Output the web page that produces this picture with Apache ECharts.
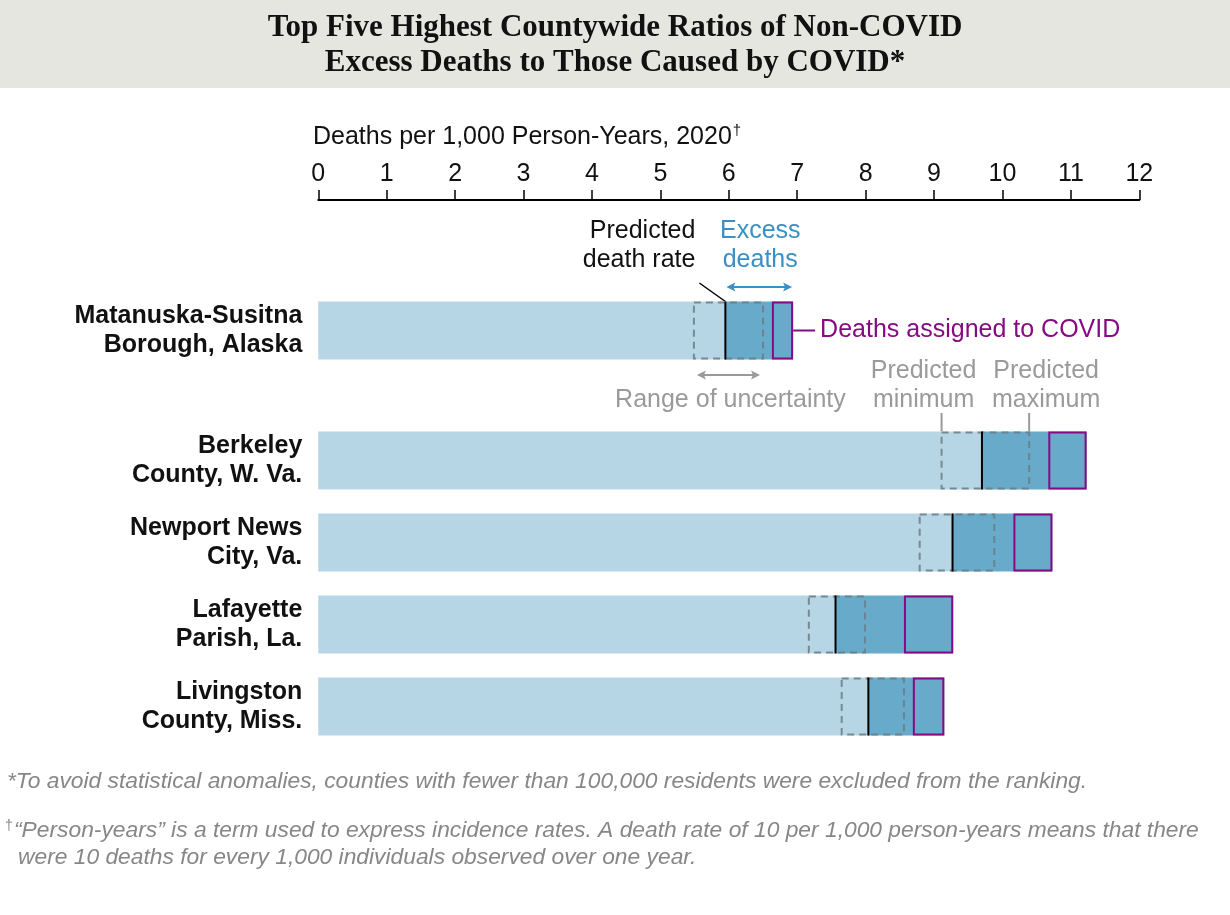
<!DOCTYPE html>
<html><head><meta charset="utf-8">
<script src="https://cdn.jsdelivr.net/npm/echarts@6/dist/echarts.min.js"></script>
<style>html,body{margin:0;padding:0;background:#fff}#c{width:1230px;height:915px}</style>
</head><body><div id="c"></div>
<script>
const counties = ['Matanuska-Susitna\nBorough, Alaska','Berkeley\nCounty, W. Va.','Newport News\nCity, Va.','Lafayette\nParish, La.','Livingston\nCounty, Miss.'];
const predicted = [5.95, 9.70, 9.27, 7.56, 8.04];
const predMin   = [5.49, 9.11, 8.79, 7.17, 7.65];
const predMax   = [6.50, 10.39, 9.88, 7.99, 8.56];
const observed  = [6.94, 11.23, 10.73, 9.28, 9.15];
const covid     = [0.31, 0.56, 0.57, 0.72, 0.46];
const xTicks = [0,1,2,3,4,5,6,7,8,9,10,11,12];

const C = {light:'#b6d5e5', dark:'#68aaca', purple:'#860a84', dash:'#6b7c86', blue:'#3a90c1', gray:'#9a9a9a', text:'#111'};
const FONT = '"Liberation Sans", Arial, sans-serif';
const FS = 25;

function rows(idx){ return idx.map(i => [i - idx[0], predicted[i], predMin[i], predMax[i], observed[i], covid[i]]); }

function renderItem(params, api){
  const cat = api.value(0);
  const p = api.value(1), mn = api.value(2), mx = api.value(3), ob = api.value(4), cv = api.value(5);
  const h = 58;
  const yc = api.coord([0, cat])[1];
  const top = yc - h/2;
  const px = v => api.coord([v, cat])[0];
  const X0 = px(0), XP = px(p), XMn = px(mn), XMx = px(mx), XO = px(ob), XC = px(ob - cv);
  return {type:'group', children:[
    {type:'rect', shape:{x:X0, y:top, width:XP-X0, height:h}, style:{fill:C.light}},
    {type:'rect', shape:{x:XP, y:top, width:XO-XP, height:h}, style:{fill:C.dark}},
    {type:'rect', shape:{x:XMn, y:top+1, width:XMx-XMn, height:h-2}, style:{fill:null, stroke:C.dash, lineWidth:2, lineDash:[7,5], opacity:0.85}},
    {type:'line', shape:{x1:XP, y1:top, x2:XP, y2:top+h}, style:{stroke:'#000', lineWidth:2}},
    {type:'rect', shape:{x:XC+1, y:top+1, width:XO-XC-2, height:h-2}, style:{fill:null, stroke:C.purple, lineWidth:2}}
  ]};
}

const chart = echarts.init(document.getElementById('c'), null, {renderer:'canvas'});
const yLabel = {fontFamily:FONT, fontSize:FS, fontWeight:'bold', color:C.text, lineHeight:29, margin:16, align:'right'};
chart.setOption({
  animation:false,
  backgroundColor:'#fff',
  grid:[
    {left:318.3, width:821, top:289.5, height:82},
    {left:318.3, width:821, top:419.5, height:328}
  ],
  xAxis:[
    {gridIndex:0, type:'value', min:0, max:12, interval:1, position:'top', offset:89.5,
     axisLine:{show:true, lineStyle:{color:'#000', width:2}},
     axisTick:{show:true, length:10, lineStyle:{color:'#000', width:1.5}},
     axisLabel:{fontFamily:FONT, fontSize:FS, color:C.text, margin:13, formatter:v => String(xTicks[v] !== undefined ? xTicks[v] : v)},
     splitLine:{show:false}},
    {gridIndex:1, type:'value', min:0, max:12, interval:1, show:false, splitLine:{show:false}}
  ],
  yAxis:[
    {gridIndex:0, type:'category', data:counties.slice(0,1), inverse:true,
     axisLine:{show:false}, axisTick:{show:false}, axisLabel:yLabel},
    {gridIndex:1, type:'category', data:counties.slice(1), inverse:true,
     axisLine:{show:false}, axisTick:{show:false}, axisLabel:yLabel}
  ],
  series:[
    {type:'custom', xAxisIndex:0, yAxisIndex:0, renderItem, data:rows([0]), encode:{x:[1,2,3,4], y:0}},
    {type:'custom', xAxisIndex:1, yAxisIndex:1, renderItem, data:rows([1,2,3,4]), encode:{x:[1,2,3,4], y:0}}
  ]
});

const P = (v, grid, cat) => chart.convertToPixel({gridIndex:grid}, [v, cat]);
const xp = v => P(v,0,0)[0];
const yMat = P(0,0,0)[1];
const xpB = v => P(v,1,0)[0];
const yBerk = P(0,1,0)[1];
const matTop = yMat - 29, berkTop = yBerk - 29;

function arrow(x1, x2, y, color){
  const hl = 9, hw = 4.5;
  return [
    {type:'line', shape:{x1:x1+3, y1:y, x2:x2-3, y2:y}, style:{stroke:color, lineWidth:2}},
    {type:'polygon', shape:{points:[[x1,y],[x1+hl,y-hw],[x1+hl-2,y],[x1+hl,y+hw]]}, style:{fill:color}},
    {type:'polygon', shape:{points:[[x2,y],[x2-hl,y-hw],[x2-hl+2,y],[x2-hl,y+hw]]}, style:{fill:color}}
  ];
}
const txt = (x, y, text, color, align) => ({type:'text', x, y, style:{text, fill:color, font:`${FS}px ${FONT}`, textAlign:align, textVerticalAlign:'middle', lineHeight:29}});

const xPred = xp(predicted[0]), xObs = xp(observed[0]);
const xMin0 = xp(predMin[0]), xMax0 = xp(predMax[0]);
const xMinB = xpB(predMin[1]), xMaxB = xpB(predMax[1]);
const TF = `bold 31px "Liberation Serif", serif`;
const FN = `italic 22.8px ${FONT}`;

const g = [
  {type:'rect', shape:{x:0, y:0, width:1230, height:88}, style:{fill:'#e6e6e1'}},
  {type:'text', x:615, y:28, style:{text:'Top Five Highest Countywide Ratios of Non-COVID', fill:'#111', font:TF, textAlign:'center', textVerticalAlign:'middle'}},
  {type:'text', x:615, y:63, style:{text:'Excess Deaths to Those Caused by COVID*', fill:'#111', font:TF, textAlign:'center', textVerticalAlign:'middle'}},
  {type:'text', x:313, y:137, style:{rich:{a:{fontFamily:FONT, fontSize:FS, fill:'#111'}, s:{fontFamily:FONT, fontSize:15, fill:'#111', padding:[0,0,12,1]}}, text:'{a|Deaths per 1,000 Person-Years, 2020}{s|†}', textVerticalAlign:'middle'}},
  txt(xPred - 30, 245.5, 'Predicted\ndeath rate', '#111', 'right'),
  {type:'line', shape:{x1:xPred - 26, y1:283, x2:xPred, y2:matTop}, style:{stroke:'#000', lineWidth:1.5}},
  txt((xPred + xObs)/2 + 1, 245.5, 'Excess\ndeaths', C.blue, 'center'),
  ...arrow(xPred + 1, xObs - 1, 287, C.blue),
  {type:'line', shape:{x1:xObs, y1:yMat, x2:xObs + 22, y2:yMat}, style:{stroke:C.purple, lineWidth:2}},
  txt(xObs + 27, yMat, 'Deaths assigned to COVID', C.purple, 'left'),
  ...arrow(xMin0 + 3, xMax0 - 3, 375, C.gray),
  txt((xMin0 + xMax0)/2 + 2, 400, 'Range of uncertainty', C.gray, 'center'),
  txt(xMinB - 18, 385.5, 'Predicted\nminimum', C.gray, 'center'),
  {type:'line', shape:{x1:xMinB, y1:413, x2:xMinB, y2:berkTop}, style:{stroke:C.gray, lineWidth:2}},
  txt(xMaxB + 17, 385.5, 'Predicted\nmaximum', C.gray, 'center'),
  {type:'line', shape:{x1:xMaxB, y1:413, x2:xMaxB, y2:berkTop}, style:{stroke:C.gray, lineWidth:2}},
  {type:'text', x:7, y:782, style:{text:'*To avoid statistical anomalies, counties with fewer than 100,000 residents were excluded from the ranking.', fill:'#878787', font:FN, textVerticalAlign:'middle'}},
  {type:'text', x:5, y:826, style:{text:'†', fill:'#878787', font:`14px ${FONT}`, textVerticalAlign:'middle'}},
  {type:'text', x:14, y:831, style:{text:'“Person-years” is a term used to express incidence rates. A death rate of 10 per 1,000 person-years means that there', fill:'#878787', font:FN, textVerticalAlign:'middle'}},
  {type:'text', x:18, y:858, style:{text:'were 10 deaths for every 1,000 individuals observed over one year.', fill:'#878787', font:FN, textVerticalAlign:'middle'}}
];
chart.setOption({graphic:g});
</script></body></html>
